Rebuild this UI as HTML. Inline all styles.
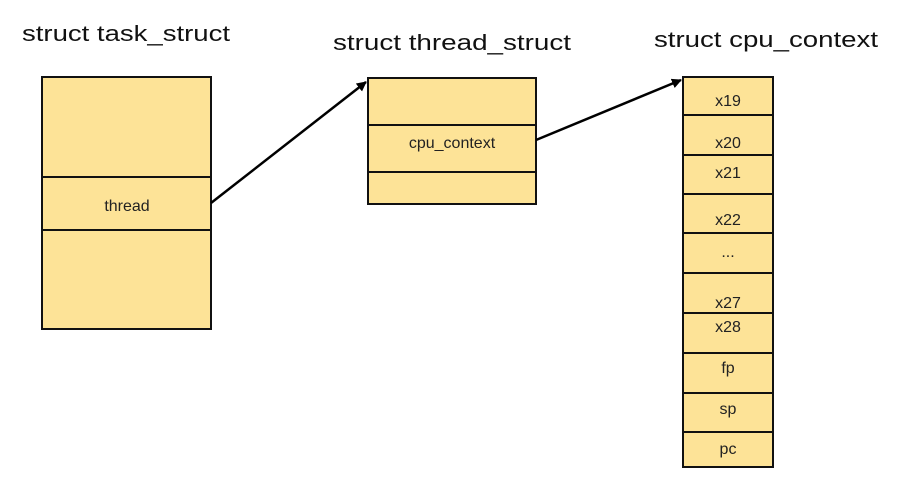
<!DOCTYPE html>
<html><head><meta charset="utf-8"><style>
html,body{margin:0;padding:0;background:#fff;}
svg{display:block;font-family:"Liberation Sans",sans-serif;}
</style></head><body>
<svg width="899" height="481" viewBox="0 0 899 481" xmlns="http://www.w3.org/2000/svg">
<defs><marker id="a" markerWidth="10" markerHeight="10" refX="9" refY="5" orient="auto" markerUnits="userSpaceOnUse" viewBox="0 0 10 10"><path d="M0,0 L10,5 L0,10 z" fill="#000"/></marker></defs>
<g font-size="22" fill="#111">
<text x="22" y="41" textLength="208" lengthAdjust="spacingAndGlyphs">struct task_struct</text>
<text x="333" y="50" textLength="238" lengthAdjust="spacingAndGlyphs">struct thread_struct</text>
<text x="654" y="47" textLength="224" lengthAdjust="spacingAndGlyphs">struct cpu_context</text>
</g>
<g fill="#fde397" stroke="#111" stroke-width="2">
<rect x="42" y="77" width="169" height="252"/>
<line x1="42" y1="177" x2="211" y2="177"/>
<line x1="42" y1="230" x2="211" y2="230"/>
<rect x="368" y="78" width="168" height="126"/>
<line x1="368" y1="125" x2="536" y2="125"/>
<line x1="368" y1="172" x2="536" y2="172"/>
<rect x="683" y="77" width="90" height="390"/>
<line x1="683" y1="115" x2="773" y2="115"/>
<line x1="683" y1="155" x2="773" y2="155"/>
<line x1="683" y1="194" x2="773" y2="194"/>
<line x1="683" y1="233" x2="773" y2="233"/>
<line x1="683" y1="273" x2="773" y2="273"/>
<line x1="683" y1="313" x2="773" y2="313"/>
<line x1="683" y1="353" x2="773" y2="353"/>
<line x1="683" y1="393" x2="773" y2="393"/>
<line x1="683" y1="432" x2="773" y2="432"/>
</g>
<g font-size="16" fill="#222" text-anchor="middle">
<text x="127" y="211">thread</text>
<text x="452" y="148">cpu_context</text>
<text x="728" y="106">x19</text>
<text x="728" y="148">x20</text>
<text x="728" y="178">x21</text>
<text x="728" y="225">x22</text>
<text x="728" y="257">...</text>
<text x="728" y="308">x27</text>
<text x="728" y="332">x28</text>
<text x="728" y="373">fp</text>
<text x="728" y="414">sp</text>
<text x="728" y="454">pc</text>
</g>
<g stroke="#000" stroke-width="2.5" fill="none">
<line x1="211" y1="203" x2="366" y2="82" marker-end="url(#a)"/>
<line x1="536" y1="140" x2="681" y2="80" marker-end="url(#a)"/>
</g>
</svg>
</body></html>
